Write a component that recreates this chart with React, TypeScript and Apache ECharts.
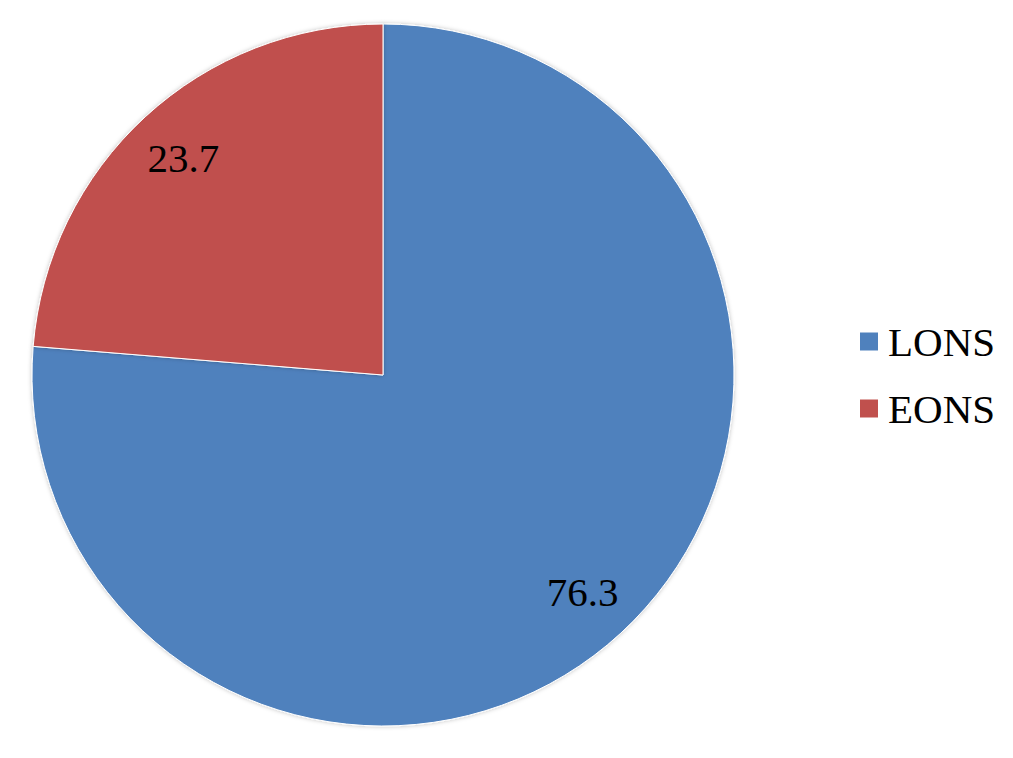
import React, { useEffect, useRef } from "react";
import * as echarts from "echarts";

const categories = ["LONS", "EONS"];
const values = [76.3, 23.7];
const colors = ["#4F81BD", "#C0504D"];

export default function App() {
  const ref = useRef<HTMLDivElement>(null);
  useEffect(() => {
    if (!ref.current) return;
    const chart = echarts.init(ref.current, null, { renderer: "svg" });
    const data = categories.map((name, i) => ({
      name,
      value: values[i],
      itemStyle: { color: colors[i] },
    }));
    const font = "'Liberation Serif', 'Times New Roman', serif";
    chart.setOption({
      animation: false,
      backgroundColor: "#ffffff",
      legend: {
        orient: "vertical",
        left: 858,
        top: 321,
        padding: 0,
        itemWidth: 20,
        itemHeight: 20,
        itemGap: 26,
        icon: "rect",
        data: categories,
        textStyle: {
          fontFamily: font,
          fontSize: 41,
          lineHeight: 41,
          color: "#000",
          padding: [0, 0, 0, 4],
        },
      },
      series: [
        {
          type: "pie",
          name: "main",
          center: [383, 375],
          radius: [0, 351],
          startAngle: 90,
          clockwise: true,
          silent: true,
          label: { show: false },
          labelLine: { show: false },
          itemStyle: {
            borderColor: "#ffffff",
            borderWidth: 1,
            shadowColor: "rgba(0,0,0,0.25)",
            shadowBlur: 4,
          },
          data,
        },
        {
          type: "pie",
          name: "labels",
          center: [383, 375],
          radius: [232, 351],
          startAngle: 90,
          clockwise: true,
          silent: true,
          legendHoverLink: false,
          itemStyle: { color: "rgba(0,0,0,0)" },
          label: {
            show: true,
            position: "inside",
            formatter: (p: any) => String(p.value),
            fontFamily: font,
            fontSize: 41,
            color: "#000",
          },
          labelLine: { show: false },
          data: categories.map((name, i) => ({
            name: name + "_l",
            value: values[i],
            itemStyle: { color: "rgba(0,0,0,0)" },
          })),
        },
      ],
    });
    return () => chart.dispose();
  }, []);
  return (
    <div
      ref={ref}
      style={{ position: "fixed", left: 0, top: 0, width: 1013, height: 758 }}
    />
  );
}
